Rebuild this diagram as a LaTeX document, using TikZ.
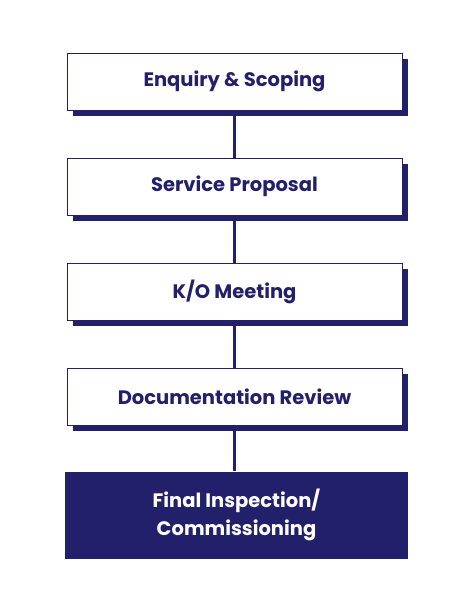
\documentclass[tikz,border=0pt]{standalone}
\usepackage{fontspec}
\setmainfont{Poppins}
\definecolor{navy}{HTML}{23206B}
\begin{document}
\begin{tikzpicture}[x=1pt,y=-1pt,
  stepbox/.style={draw=navy,line width=0.8pt,fill=white,minimum width=335pt,minimum height=57pt,inner sep=0pt,
    font=\fontsize{19.5}{23}\selectfont\bfseries,text=navy,align=center},
  shadowbox/.style={fill=navy,minimum width=335pt,minimum height=57pt,inner sep=0pt},
  finalbox/.style={fill=navy,minimum width=343pt,minimum height=87pt,inner sep=0pt,
    font=\fontsize{19.5}{28}\selectfont\bfseries,text=white,align=center},
  link/.style={draw=navy,line width=2.2pt}]
\useasboundingbox (0,0) rectangle (474,611);
\fill[white] (0,0) rectangle (474,611);
\foreach \y/\n in {81.5/1,186.5/2,291.5/3,396.5/4}{
  \node[shadowbox] (s\n) at (240.5,\y+6) {};
}
\node[finalbox] (e) at (236.5,515) {Final Inspection/\\Commissioning};
\node[stepbox] (a) at (234.5,81.5) {Enquiry \& Scoping};
\node[stepbox] (b) at (234.5,186.5) {Service Proposal};
\node[stepbox] (c) at (234.5,291.5) {K/O Meeting};
\node[stepbox] (d) at (234.5,396.5) {Documentation Review};
\draw[link] (a.south) -- (b.north);
\draw[link] (b.south) -- (c.north);
\draw[link] (c.south) -- (d.north);
\draw[link] (d.south) -- (d.south |- e.north);
\end{tikzpicture}
\end{document}
